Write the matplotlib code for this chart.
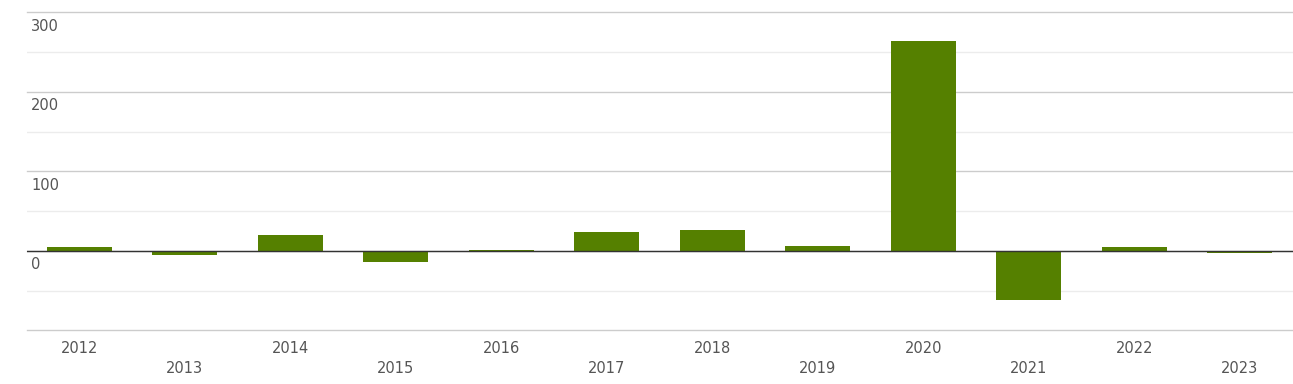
import matplotlib
matplotlib.use('Agg')
import matplotlib.pyplot as plt

# dữ liệu
years = ['2012', '2013', '2014', '2015', '2016', '2017',
         '2018', '2019', '2020', '2021', '2022', '2023']
values = [5, -5, 20, -14, 0.6, 24, 26.5, 6, 264, -61.5, 5, -2.5]
major_ticks = [-100, 0, 100, 200, 300]
minor_ticks = [-50, 50, 150, 250]
label_ticks = [0, 100, 200, 300]

fig = plt.figure(figsize=(12.93, 3.84), dpi=100)
ax = fig.add_axes([26.5 / 1293, 1 - 330.3 / 384, 1266 / 1293, 318 / 384])

x = list(range(len(years)))
ax.bar(x, values, width=0.616, color='#558000', zorder=2)
ax.axhline(0, color='#333333', lw=1, zorder=3)

ax.set_xlim(-0.5, len(years) - 0.5)
ax.set_ylim(-100, 300)

# lưới
ax.set_yticks(major_ticks)
ax.set_yticks(minor_ticks, minor=True)
ax.yaxis.grid(True, which='major', color='#cccccc', lw=1, zorder=0)
ax.yaxis.grid(True, which='minor', color='#ececec', lw=1, zorder=0)
for ln in ax.get_ygridlines():
    ln.set_clip_on(False)
ax.tick_params(axis='y', which='both', length=0, labelleft=False)
for s in ax.spines.values():
    s.set_visible(False)

# nhãn trục y nằm trong vùng vẽ
for v in label_ticks:
    ax.annotate(str(v), xy=(0, v), xycoords=('axes fraction', 'data'),
                xytext=(3.4, -10.0), textcoords='offset points',
                ha='left', va='center', fontsize=10.5, color='#555555')

# nhãn trục x so le
ax.set_xticks(x)
ax.set_xticklabels(years, fontsize=10.5, color='#555555')
ax.tick_params(axis='x', length=0)
for i, tick in enumerate(ax.xaxis.get_major_ticks()):
    tick.set_pad(8.0 if i % 2 == 0 else 22.4)

fig.savefig('out.png', dpi=100)
